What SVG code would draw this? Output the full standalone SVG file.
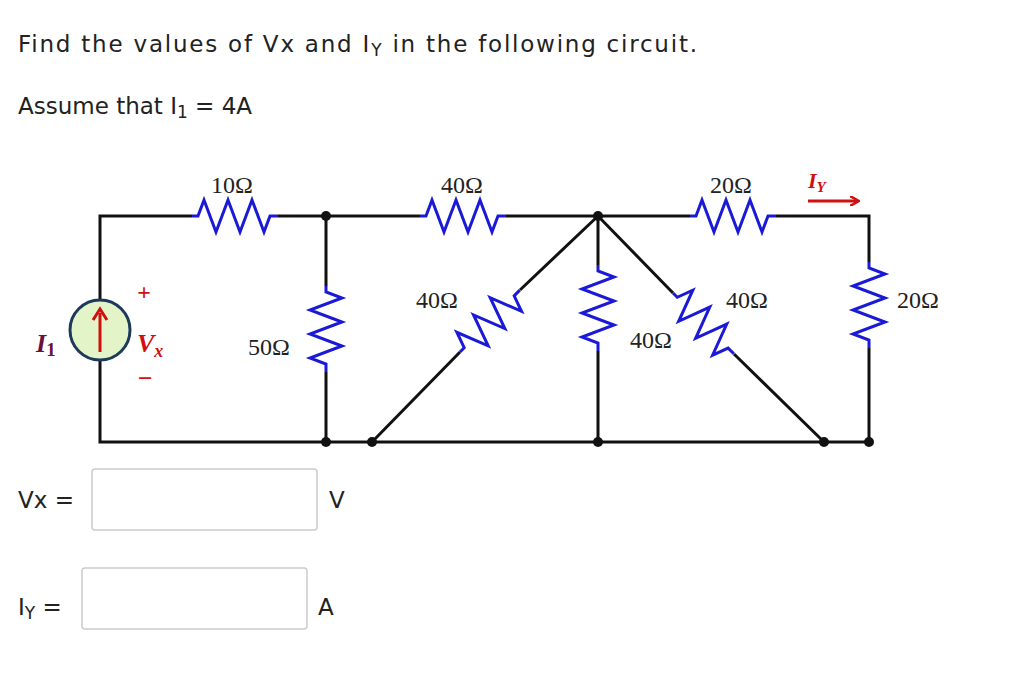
<svg xmlns="http://www.w3.org/2000/svg" width="1024" height="686" viewBox="0 0 1024 686">
<style>
.w{stroke:#111;stroke-width:3;fill:none}
.r{stroke:#1a1ad6;stroke-width:3;fill:none;stroke-linejoin:miter}
.lb{font-family:"Liberation Serif",serif;font-size:24px;fill:#222}
.q{font-family:"DejaVu Sans",sans-serif;font-size:23px;fill:#222}
.red{font-family:"Liberation Serif",serif;font-weight:bold;font-style:italic;fill:#d01010}
.box{fill:#fff;stroke:#ccc;stroke-width:1.5}
</style>
<defs>
<path id="res" class="r" d="M0,0 h6 l6,-16 l12,32 l12,-32 l12,32 l12,-32 l12,32 l6,-16 h8"/>
<marker id="ah" markerWidth="10" markerHeight="10" refX="8" refY="5" orient="auto" markerUnits="userSpaceOnUse"><path d="M0,0 L9,5 L0,10" fill="none" stroke="#d01010" stroke-width="2.5"/></marker>
</defs>
<rect width="1024" height="686" fill="#fff"/>
<text class="q" x="18" y="52" textLength="679">Find the values of Vx and I<tspan font-size="17" dy="4">Y</tspan><tspan dy="-4"> in the following circuit.</tspan></text>
<text class="q" x="18" y="114">Assume that I<tspan font-size="17" dy="4">1</tspan><tspan dy="-4"> = 4A</tspan></text>
<g id="connectors">
<path class="w" d="M100,300 V216 H192 M278,216 H420 M506,216 H690 M776,216 H869 V262 M869,348 V442 H100 V360"/>
<path class="w" d="M326,216 V286 M326,372 V442 M598,216 V265 M598,351 V442 M372,442 L460,352 M520,290 L598,216 L673,293 M734,354 L824,442"/>
<g fill="#111"><circle cx="326" cy="216" r="5"/><circle cx="598" cy="216" r="5"/><circle cx="326" cy="442" r="5"/><circle cx="372" cy="442" r="5"/><circle cx="598" cy="442" r="5"/><circle cx="824" cy="442" r="5"/><circle cx="869" cy="442" r="5"/></g>
<path d="M808,201 H858" stroke="#d01010" stroke-width="3" marker-end="url(#ah)"/>
</g>
<g id="R10"><use href="#res" transform="translate(192,216)"/><text class="lb" x="232" y="193" text-anchor="middle">10Ω</text></g>
<g id="R40top"><use href="#res" transform="translate(420,216)"/><text class="lb" x="462" y="193" text-anchor="middle">40Ω</text></g>
<g id="R20top"><use href="#res" transform="translate(690,216)"/><text class="lb" x="731" y="193" text-anchor="middle">20Ω</text></g>
<g id="R50"><use href="#res" transform="translate(326,286) rotate(90)"/><text class="lb" x="269" y="355" text-anchor="middle">50Ω</text></g>
<g id="R40diagL"><use href="#res" transform="translate(460,352) rotate(-46)"/><text class="lb" x="437" y="308" text-anchor="middle">40Ω</text></g>
<g id="R40mid"><use href="#res" transform="translate(598,265) rotate(90)"/><text class="lb" x="651" y="348" text-anchor="middle">40Ω</text></g>
<g id="R40diagR"><use href="#res" transform="translate(673,293) rotate(45)"/><text class="lb" x="747" y="308" text-anchor="middle">40Ω</text></g>
<g id="R20right"><use href="#res" transform="translate(869,262) rotate(90)"/><text class="lb" x="918" y="308" text-anchor="middle">20Ω</text></g>
<g id="I1">
<circle cx="100" cy="330" r="30" fill="#e3f5c8" stroke="#1e3a5a" stroke-width="3"/>
<path d="M100,352 V313" stroke="#d01010" stroke-width="3"/><path d="M93,320 L100,309 L107,320" fill="none" stroke="#d01010" stroke-width="3"/>
<text x="36" y="352" font-family="Liberation Serif,serif" font-weight="bold" font-style="italic" font-size="26" fill="#6a1040">I<tspan font-size="19" font-style="normal" dy="4">1</tspan></text>
<text class="red" x="137" y="300" font-size="24" font-style="normal">+</text>
<text class="red" x="137" y="352" font-size="26">V<tspan font-size="18" dy="5">x</tspan></text>
<text class="red" x="137" y="387" font-size="26" font-style="normal">−</text>
</g>
<text class="red" x="808" y="188" font-size="22" fill="#b01010">I<tspan font-size="15" dy="4">Y</tspan></text>
<g id="answers">
<text class="q" x="18" y="508">Vx =</text>
<rect class="box" x="92" y="469" width="225" height="61" rx="3"/>
<text class="q" x="329" y="508">V</text>
<text class="q" x="18" y="615">I<tspan font-size="17" dy="4">Y</tspan><tspan dy="-4"> =</tspan></text>
<rect class="box" x="82" y="568" width="225" height="61" rx="3"/>
<text class="q" x="318" y="615">A</text>
</g>
</svg>
